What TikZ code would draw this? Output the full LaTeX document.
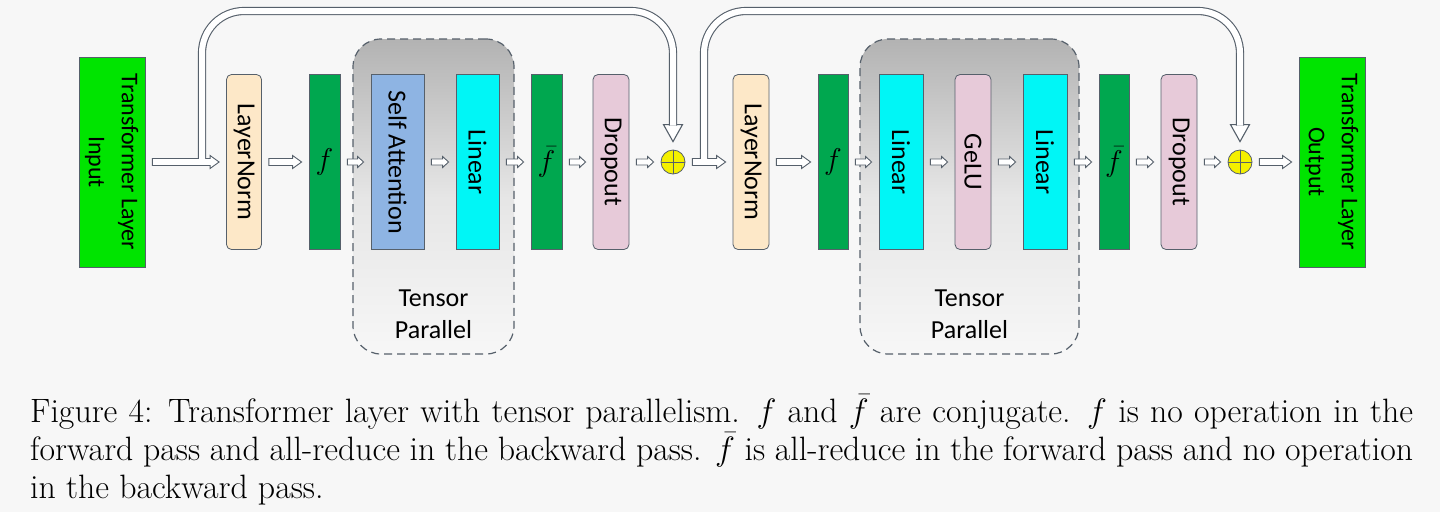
\RequirePackage{fix-cm}
\documentclass[tikz,border=0pt]{standalone}
\usepackage{fontspec}
\usepackage{graphicx}
\usetikzlibrary{calc}
\newfontfamily\boxfont{Carlito}

\definecolor{pagegray}{HTML}{F7F7F7}
\definecolor{edgegray}{HTML}{56606B}
\definecolor{iogreen}{HTML}{00E400}
\definecolor{fgreen}{HTML}{00A74F}
\definecolor{normpeach}{HTML}{FDE8C8}
\definecolor{droppink}{HTML}{E7CAD9}
\definecolor{attnblue}{HTML}{8EB4E3}
\definecolor{lincyan}{HTML}{00F6F6}
\definecolor{sumyellow}{HTML}{F4F000}

\tikzset{
  layer/.style={draw=edgegray, line width=0.8pt, minimum height=175pt, inner sep=0pt,
    font=\boxfont\fontsize{26}{32}\selectfont},
  rlayer/.style={layer, rounded corners=5pt},
  io/.style={layer, fill=iogreen, minimum width=62pt, minimum height=210pt,
    font=\boxfont\fontsize{24}{33}\selectfont},
  conj/.style={layer, fill=fgreen, minimum width=31pt, font=\fontsize{30}{30}\selectfont},
  sum/.style={circle, draw=edgegray, line width=0.8pt, fill=sumyellow, minimum size=24pt,
    inner sep=0pt, path picture={\draw[line width=0.9pt]
      (path picture bounding box.north) -- (path picture bounding box.south)
      (path picture bounding box.west) -- (path picture bounding box.east);}},
  tpbox/.style={draw=edgegray, line width=1.2pt, dash pattern=on 8pt off 5pt,
    rounded corners=28pt, top color=black!30, bottom color=pagegray,
    middle color=black!10, minimum height=315pt},
  tplabel/.style={font=\boxfont\fontsize{26}{32}\selectfont, align=center},
  blockarrow/.style n args={3}{draw=edgegray, fill=white, line width=0.9pt,
    to path={let \p1=(\tikztostart), \p2=(\tikztotarget) in
      (\x1+7pt,\y1+#1) -- (\x2-7pt-#3,\y1+#1) -- (\x2-7pt-#3,\y1+#2) -- (\x2-7pt,\y1)
      -- (\x2-7pt-#3,\y1-#2) -- (\x2-7pt-#3,\y1-#1) -- (\x1+7pt,\y1-#1) -- cycle}},
  bigarrow/.style={blockarrow={3.5pt}{6.5pt}{9pt}},
  smallarrow/.style={blockarrow={3pt}{5.5pt}{6pt}},
  skip/.style={draw=edgegray, line width=1.1pt, double=white, double distance=6pt,
    rounded corners=42pt},
  skiphead/.style={draw=edgegray, fill=white, line width=1.1pt},
}

\begin{document}
\begin{tikzpicture}[x=1pt, y=-1pt]
  \fill[pagegray] (0,0) rectangle (1440,512);
  \useasboundingbox (0,0) rectangle (1440,512);

  % Tensor parallel regions
  \node[tpbox, minimum width=161pt] (tp1) at (433.5,196.5) {};
  \node[tpbox, minimum width=219pt] (tp2) at (969.5,196.5) {};
  \node[tplabel] (tp1lbl) at (433.5,314) {Tensor\\Parallel};
  \node[tplabel] (tp2lbl) at (969.5,314) {Tensor\\Parallel};

  % First half: attention block
  \node[io] (in) at (112,162)
    {\rotatebox{-90}{\begin{tabular}{@{}c@{}}Transformer Layer\\Input\end{tabular}}};
  \node[rlayer, fill=normpeach, minimum width=35pt] (ln1) at (244,162) {\rotatebox{-90}{LayerNorm}};
  \node[conj] (f1) at (324.5,162) {$f$};
  \node[layer, fill=attnblue, minimum width=53pt] (sa) at (397.5,162) {\rotatebox{-90}{Self Attention}};
  \node[layer, fill=lincyan, minimum width=43pt] (lin1) at (477.5,162) {\rotatebox{-90}{Linear}};
  \node[conj] (fb1) at (546.5,162) {$\bar{f}$};
  \node[rlayer, fill=droppink, minimum width=36pt] (do1) at (611,162) {\rotatebox{-90}{Dropout}};
  \node[sum] (sum1) at (673,162) {};

  % Second half: MLP block
  \node[rlayer, fill=normpeach, minimum width=36pt] (ln2) at (751,162) {\rotatebox{-90}{LayerNorm}};
  \node[conj, minimum width=30pt] (f2) at (833,162) {$f$};
  \node[layer, fill=lincyan, minimum width=44pt] (lin2) at (901,162) {\rotatebox{-90}{Linear}};
  \node[rlayer, fill=droppink, minimum width=36pt] (gelu) at (973,162) {\rotatebox{-90}{GeLU}};
  \node[layer, fill=lincyan, minimum width=44pt] (lin3) at (1045,162) {\rotatebox{-90}{Linear}};
  \node[conj, minimum width=30pt] (fb2) at (1114,162) {$\bar{f}$};
  \node[rlayer, fill=droppink, minimum width=36pt] (do2) at (1179,162) {\rotatebox{-90}{Dropout}};
  \node[sum] (sum2) at (1240,162) {};
  \node[io] (out) at (1332,162)
    {\rotatebox{-90}{\begin{tabular}{@{}c@{}}Transformer Layer\\Output\end{tabular}}};

  % Forward arrows
  \draw[bigarrow] (in.east) to (ln1.west);
  \draw[bigarrow] (ln1.east) to (f1.west);
  \draw[smallarrow] (f1.east) to (sa.west);
  \draw[smallarrow] (sa.east) to (lin1.west);
  \draw[smallarrow] (lin1.east) to (fb1.west);
  \draw[smallarrow] (fb1.east) to (do1.west);
  \draw[smallarrow] (do1.east) to (sum1.west);
  \draw[bigarrow] (sum1.east) to (ln2.west);
  \draw[bigarrow] (ln2.east) to (f2.west);
  \draw[smallarrow] (f2.east) to (lin2.west);
  \draw[smallarrow] (lin2.east) to (gelu.west);
  \draw[smallarrow] (gelu.east) to (lin3.west);
  \draw[smallarrow] (lin3.east) to (fb2.west);
  \draw[smallarrow] (fb2.east) to (do2.west);
  \draw[smallarrow] (do2.east) to (sum2.west);
  \draw[bigarrow] (sum2.east) to (out.west);

  % Residual connections
  \coordinate (ceil) at (0,11);
  \coordinate (res1) at (202,158.9);
  \coordinate (res2) at (704,158.9);
  \draw[skiphead] ($(sum1.north)+(0,-8)$) -- ++(-9.5,-17) -- ++(19,0) -- cycle;
  \draw[skiphead] ($(sum2.north)+(0,-8)$) -- ++(-9.5,-17) -- ++(19,0) -- cycle;
  \draw[skip] (res1) -- (res1 |- ceil) -- (sum1 |- ceil) -- ($(sum1.north)+(0,-24)$);
  \draw[skip] (res2) -- (res2 |- ceil) -- (sum2 |- ceil) -- ($(sum2.north)+(0,-24)$);

  % Caption
  \node[anchor=north west, text width=1383pt, align=justify, inner sep=0pt,
    font=\fontsize{33.8}{38}\selectfont] (caption) at (30,394)
    {Figure 4: Transformer layer with tensor parallelism. $f$ and $\bar{f}$ are
    conjugate. $f$ is no operation in the\linebreak forward pass and all-reduce in the
    backward pass. $\bar{f}$ is all-reduce in the forward pass and no operation\linebreak
    in the backward pass.};
\end{tikzpicture}
\end{document}
